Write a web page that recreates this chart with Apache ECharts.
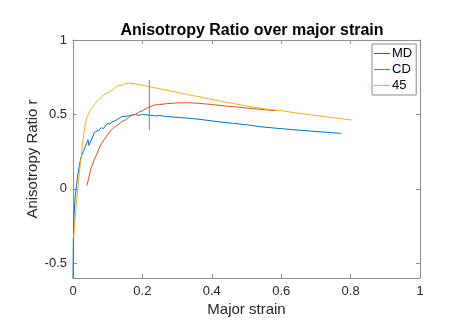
<!DOCTYPE html>
<html><head><meta charset="utf-8">
<script src="https://cdn.jsdelivr.net/npm/echarts@6/dist/echarts.min.js"></script>
<style>html,body{margin:0;padding:0;background:#fff}#c{width:474px;height:334px}</style>
</head><body><div id="c"></div>
<script>
const mdX = [0,0.001,0.003,0.006,0.01,0.014,0.018,0.022,0.026,0.03,0.035,0.04,0.043,0.046,0.049,0.053,0.057,0.062,0.067,0.072,0.077,0.082,0.088,0.094,0.1,0.106,0.112,0.12,0.13,0.14,0.15,0.16,0.17,0.18,0.19,0.2,0.21,0.22,0.235,0.25,0.27,0.29,0.31,0.33,0.36,0.38,0.42,0.46,0.5,0.54,0.58,0.62,0.66,0.7,0.74,0.772];
const mdY = [-0.6,-0.35,-0.18,-0.06,0.02,0.1,0.15,0.2,0.23,0.25,0.28,0.31,0.33,0.29,0.31,0.33,0.35,0.38,0.37,0.39,0.4,0.41,0.405,0.425,0.44,0.435,0.45,0.455,0.47,0.484,0.486,0.49,0.495,0.5,0.493,0.5,0.497,0.495,0.49,0.492,0.485,0.482,0.478,0.475,0.468,0.462,0.45,0.44,0.43,0.417,0.408,0.4,0.392,0.385,0.378,0.372];
const cdX = [0.04,0.042,0.045,0.048,0.052,0.056,0.062,0.068,0.075,0.082,0.09,0.1,0.11,0.12,0.13,0.14,0.15,0.16,0.17,0.18,0.19,0.2,0.21,0.22,0.235,0.25,0.27,0.3,0.33,0.36,0.4,0.44,0.48,0.52,0.55,0.582];
const cdY = [0.02,0.03,0.07,0.1,0.14,0.16,0.2,0.23,0.27,0.305,0.33,0.365,0.395,0.415,0.43,0.45,0.462,0.478,0.495,0.5,0.515,0.525,0.538,0.55,0.563,0.566,0.572,0.577,0.578,0.575,0.566,0.556,0.548,0.538,0.532,0.525];
const d45X = [0.002,0.006,0.01,0.014,0.018,0.022,0.026,0.03,0.035,0.04,0.045,0.05,0.055,0.06,0.065,0.07,0.075,0.08,0.085,0.09,0.095,0.1,0.11,0.12,0.13,0.14,0.15,0.16,0.17,0.18,0.19,0.2,0.21,0.22,0.25,0.28,0.3,0.33,0.36,0.4,0.44,0.48,0.52,0.56,0.6,0.65,0.7,0.75,0.803];
const d45Y = [-0.33,-0.2,-0.09,0.0,0.1,0.18,0.27,0.35,0.43,0.48,0.5,0.53,0.545,0.56,0.575,0.59,0.6,0.61,0.625,0.63,0.64,0.652,0.66,0.675,0.697,0.695,0.705,0.71,0.708,0.705,0.7,0.697,0.69,0.686,0.672,0.658,0.648,0.633,0.62,0.6,0.582,0.565,0.548,0.535,0.525,0.507,0.492,0.477,0.462];
const markerX = [0.22,0.22];
const markerY = [0.395,0.731];
const xTicks = [0,0.2,0.4,0.6,0.8,1];
const yTicks = [-0.5,0,0.5,1];

function pairs(xs, ys){ return xs.map((x,i)=>[x,ys[i]]); }
const axisCol = '#8c8c8c', textCol = '#262626';
const font = 'Liberation Sans, Arial, sans-serif';
const lineIcon = 'path://M0,0h0.01v0.01h-0.01z M0,5.5h16v1h-16z M0,12h0.01v0.01h-0.01z';
const chart = echarts.init(document.getElementById('c'));
const baseX = {type:'value',min:0,max:1,
  axisLine:{show:true,onZero:false,lineStyle:{color:axisCol,width:1}},
  axisTick:{show:true,inside:true,length:4,customValues:xTicks,lineStyle:{color:axisCol}},
  splitLine:{show:false}};
const baseY = {type:'value',min:-0.6,max:1,
  axisLine:{show:true,onZero:false,lineStyle:{color:axisCol,width:1}},
  axisTick:{show:true,inside:true,length:4,customValues:yTicks,lineStyle:{color:axisCol}},
  splitLine:{show:false}};
chart.setOption({
  animation:false,
  backgroundColor:'#fff',
  title:{text:'Anisotropy Ratio over major strain',left:247,top:18,textAlign:'center',
    textStyle:{fontFamily:font,fontSize:16,fontWeight:'bold',color:'#000'}},
  grid:{left:73,right:54,top:40,bottom:56},
  legend:{data:['MD','CD','45'],orient:'vertical',left:372,top:44,icon:lineIcon,
    backgroundColor:'#fff',borderColor:'#8c8c8c',borderWidth:1,padding:[3,4,3,2],
    itemGap:3,itemWidth:16,itemHeight:12,
    textStyle:{fontFamily:font,fontSize:13,color:'#000',padding:[0,0,0,-3]}},
  xAxis:[Object.assign({},baseX,{position:'bottom',
      name:'Major strain',nameLocation:'middle',nameGap:24,nameMoveOverlap:false,
      nameTextStyle:{fontFamily:font,fontSize:15,color:textCol},
      axisLabel:{show:true,customValues:xTicks,margin:7,fontFamily:font,fontSize:13,color:textCol,
        formatter:v=>String(v)}}),
    Object.assign({},baseX,{position:'top',axisLabel:{show:false}})],
  yAxis:[Object.assign({},baseY,{position:'left',
      name:'Anisotropy Ratio r',nameLocation:'middle',nameGap:33,nameMoveOverlap:false,
      nameTextStyle:{fontFamily:font,fontSize:15,color:textCol},
      axisLabel:{show:true,customValues:yTicks,margin:6,fontFamily:font,fontSize:13,color:textCol,
        formatter:v=>String(v)}}),
    Object.assign({},baseY,{position:'right',axisLabel:{show:false}})],
  series:[
    {name:'MD',type:'line',data:pairs(mdX,mdY),showSymbol:false,symbol:'none',color:'#0072BD',lineStyle:{width:1,color:'#0072BD'}},
    {name:'CD',type:'line',data:pairs(cdX,cdY),showSymbol:false,symbol:'none',color:'#D95319',lineStyle:{width:1,color:'#D95319'}},
    {name:'45',type:'line',data:pairs(d45X,d45Y),showSymbol:false,symbol:'none',color:'#EDB120',lineStyle:{width:1,color:'#EDB120'}},
    {name:'marker',type:'line',data:pairs(markerX,markerY),showSymbol:false,symbol:'none',color:'#7f7f7f',lineStyle:{width:1,color:'#7f7f7f'}}
  ]
});
</script></body></html>
